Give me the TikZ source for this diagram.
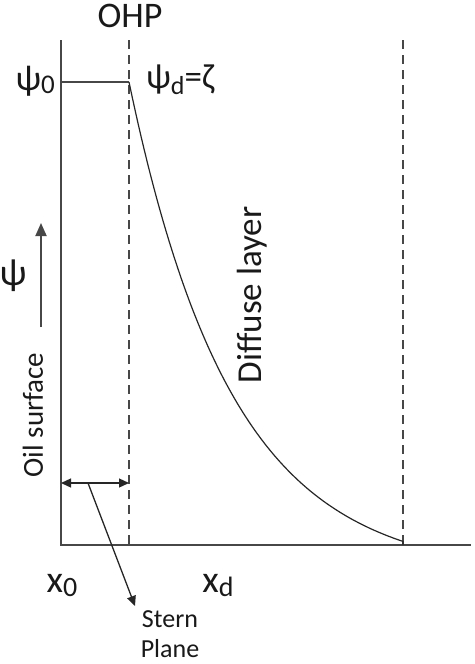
\documentclass[tikz,border=0pt]{standalone}
\usepackage{fontspec}
\setmainfont{Carlito}
\usetikzlibrary{arrows.meta}
\newcommand{\fsz}[1]{\fontsize{#1}{#1}\selectfont}
\begin{document}
\begin{tikzpicture}[x=1pt,y=-1pt,
  axisline/.style={draw=black!72,line width=1.8pt},
  dashline/.style={draw=black!72,line width=1.6pt,dash pattern=on 9pt off 6pt},
  curveline/.style={draw=black!85,line width=1.2pt},
  thinarrow/.style={draw=black!85,line width=1.3pt},
  lbl/.style={inner sep=0pt,text=black!90}]
\useasboundingbox (0,0) rectangle (474,664);
% coordinates
\coordinate (ytop) at (61,40);
\coordinate (origin) at (61,545);
\coordinate (xend) at (471,545);
\coordinate (psiz) at (61,82);
\coordinate (ohpknee) at (129,82);
\coordinate (ohptop) at (129,40);
\coordinate (ohpbot) at (129,545);
\coordinate (dtop) at (403,40);
\coordinate (dbot) at (403,545);
\coordinate (psiA) at (41,327);
\coordinate (psiB) at (41,223);
\coordinate (sL) at (61,483);
\coordinate (sR) at (129,483);
\coordinate (sM) at (88,483);
\coordinate (sT) at (135,606);
% axes
\draw[axisline] (ytop) -- (origin) -- (xend);
\draw[axisline] (psiz) -- (ohpknee);
\draw[dashline] (ohptop) -- (ohpbot);
\draw[dashline] (dtop) -- (dbot);
% curve
\draw[curveline] (ohpknee) -- plot[domain=0:274,samples=90]
  ({129+\x},{82+494*(1-exp(-0.0097*\x))}) -- (dbot);
% psi arrow
\draw[axisline,-{Triangle[length=13pt,width=11pt]}] (psiA) -- (psiB);
% stern plane arrows
\draw[thinarrow,{Triangle[length=10pt,width=9pt]}-{Triangle[length=10pt,width=9pt]}] (sL) -- (sR);
\draw[thinarrow,-{Triangle[length=10pt,width=9pt]}] (sM) -- (sT);
% labels
\node[lbl] (ohp) at (130,16) {\fsz{36}OHP};
\node[lbl,anchor=east] (psi0) at (55,81) {\fsz{36}ψ\raisebox{-3pt}{\fsz{27}0}};
\node[lbl,anchor=west] (psid) at (146,80) {\fsz{35}ψ\raisebox{-6pt}{\fsz{26}d}=ζ};
\node[lbl] (psi) at (13,276) {\fsz{38}ψ};
\node[lbl,rotate=90] (oil) at (33,415) {\fsz{29}Oil surface};
\node[lbl,rotate=90] (diff) at (252,295) {\fsz{35}Diffuse layer};
\node[lbl] (x0) at (62,586) {\fsz{38}x\raisebox{-4pt}{\fsz{28}0}};
\node[lbl] (xd) at (218,586) {\fsz{38}x\raisebox{-4pt}{\fsz{28}d}};
\node[lbl] (stern) at (170,619) {\fsz{26}Stern};
\node[lbl] (plane) at (170,649) {\fsz{26}Plane};
\end{tikzpicture}
\end{document}
